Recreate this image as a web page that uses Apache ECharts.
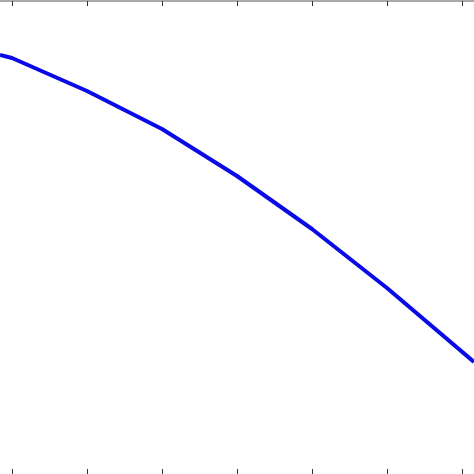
<!DOCTYPE html>
<html>
<head>
<meta charset="UTF-8">
<script src="https://cdn.jsdelivr.net/npm/echarts@6/dist/echarts.min.js"></script>
<style>html,body{margin:0;padding:0;background:#fff}#c{width:474px;height:474px}</style>
</head>
<body>
<div id="c"></div>
<script>
// x in tick units, y measured downward
var xs = [-0.16, 0, 1, 2, 3, 4, 5, 6.16];
var ys = [55, 58, 91, 129, 176, 229, 288, 362];
var tickVals = [0, 1, 2, 3, 4, 5, 6];

var pts = [];
for (var i = 0; i < xs.length; i++) pts.push([xs[i], ys[i]]);

var chart = echarts.init(document.getElementById('c'));
function tickAxis(pos, showLine) {
    return {
        type: 'value', position: pos, min: -0.16, max: 6.16,
        axisLine: { show: showLine, onZero: false, lineStyle: { color: '#aaa', width: 2 } },
        axisTick: { show: true, inside: true, length: 5, customValues: tickVals, lineStyle: { color: '#333', width: 1 } },
        axisLabel: { show: false }, splitLine: { show: false }
    };
}
chart.setOption({
    animation: false,
    grid: { left: 0, right: 0, top: 1, bottom: 0 },
    xAxis: [tickAxis('bottom', false), tickAxis('top', true)],
    yAxis: { type: 'value', inverse: true, min: 1, max: 474, show: false },
    series: [{
        type: 'line', data: pts, showSymbol: false,
        lineStyle: { color: '#0a0ae6', width: 4 }
    }]
});
</script>
</body>
</html>
